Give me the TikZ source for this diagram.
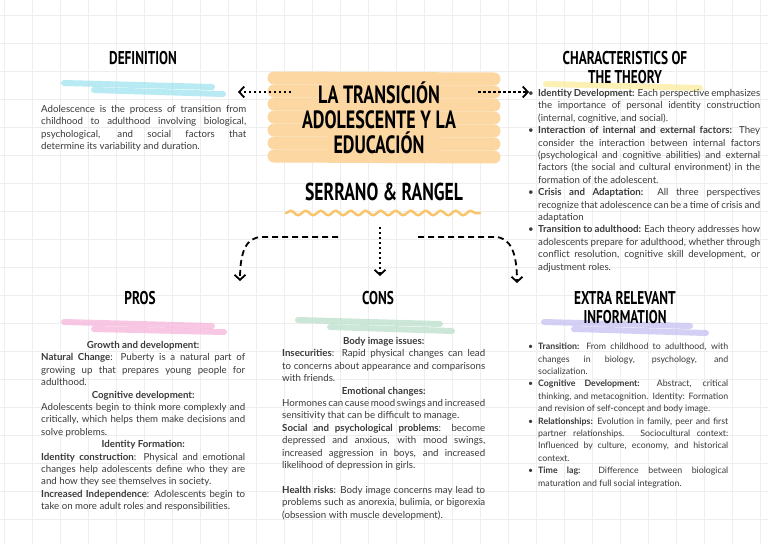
\documentclass[tikz,border=0pt]{standalone}
\usepackage{fontspec}
\setmainfont{Lato}
\newfontfamily\headfont[FakeStretch=0.72]{PT Sans}
\usetikzlibrary{arrows.meta,decorations.pathmorphing}

\definecolor{bodygray}{HTML}{3A3A3A}
\definecolor{gridgray}{HTML}{EEEEEE}
\definecolor{hlblue}{HTML}{9FE3EE}
\definecolor{hlyellow}{HTML}{FBEC9C}
\definecolor{hlpink}{HTML}{F6B5DA}
\definecolor{hlgreen}{HTML}{BBE0CC}
\definecolor{hlpurple}{HTML}{C6C0F2}
\definecolor{hlorange}{HTML}{FCD7A2}
\definecolor{waveorange}{HTML}{F8C46C}

\hyphenpenalty=10000
\exhyphenpenalty=10000
\newcommand{\bitem}[2]{\noindent\hangindent=10pt\hangafter=1\makebox[10pt][l]{\textbullet}\textbf{#1} #2\par}
\newcommand{\fullline}[1]{{\noindent\parfillskip=0pt\relax #1\par}}
\newcommand{\bfirst}[1]{{\noindent\parfillskip=0pt\relax\makebox[10pt][l]{\textbullet}#1\par}}
\newcommand{\bcont}[1]{{\noindent\leftskip=10pt\parfillskip=0pt\relax #1\par}}
\newcommand{\blast}[1]{{\noindent\leftskip=10pt\relax #1\par}}

\begin{document}
\begin{tikzpicture}[
        x=1pt, y=-1pt,
        gridline/.style={gridgray, line width=0.6pt},
        highlight/.style={line width=6pt, line cap=round, opacity=0.75},
        head/.style={font=\headfont\bfseries\fontsize{18.5}{19}\selectfont, align=center, inner sep=0pt},
        bigtitle/.style={font=\headfont\bfseries\fontsize{25}{25}\selectfont, align=center, inner sep=0pt},
        body/.style={font=\fontsize{9.7}{12.4}\selectfont, text=bodygray, align=justify, inner sep=0pt, anchor=north west},
        dotarrow/.style={line width=1.8pt, dash pattern=on 2.5pt off 2.5pt, -{Straight Barb[length=5pt, width=11pt, line width=1.8pt]}},
        dasharrow/.style={line width=1.8pt, dash pattern=on 6pt off 4pt, -{Straight Barb[length=5pt, width=11pt, line width=1.8pt]}},
    ]
    \useasboundingbox (0,0) rectangle (768,544);
    \fill[white] (0,0) rectangle (768,544);
    % grid
    \foreach \gx in {4,32,...,768} \draw[gridline] (\gx,0) -- (\gx,544);
    \foreach \gy in {15,43,...,544} \draw[gridline] (0,\gy) -- (768,\gy);

    % highlighter strokes
    \foreach \sy in {78,91,...,165} \draw[hlorange, line width=13pt, line cap=round] (274,\sy) -- (494,\sy+1);
    \draw[highlight, hlblue] (64,83) -- (212,87);
    \draw[highlight, hlblue] (94,90) -- (223,94);
    \draw[highlight, hlyellow] (546,84) -- (700,88);
    \draw[highlight, hlpink] (64,322) -- (212,326);
    \draw[highlight, hlpink] (94,329) -- (224,332);
    \draw[highlight, hlgreen] (298,320) -- (440,324);
    \draw[highlight, hlgreen] (330,327) -- (452,331);
    \draw[highlight, hlpurple] (544,322) -- (690,326);
    \draw[highlight, hlpurple] (574,329) -- (706,333);
    \draw[waveorange, line width=2.5pt, line cap=round, decorate,
        decoration={snake, amplitude=2.2pt, segment length=15pt}] (286,213) -- (480,213);

    % headings
    \node[bigtitle] (title) at (379,118) {LA TRANSICIÓN\\[0pt]ADOLESCENTE Y LA\\EDUCACIÓN};
    \node[head, font=\headfont\bfseries\fontsize{24.5}{25}\selectfont] (authors) at (384,192) {SERRANO \& RANGEL};
    \node[head] (defhead) at (143,58) {DEFINITION};
    \node[head] (charhead) at (625,68) {CHARACTERISTICS OF\\THE THEORY};
    \node[head] (proshead) at (140,298) {PROS};
    \node[head] (conshead) at (378,298) {CONS};
    \node[head] (extrahead) at (625,308) {EXTRA RELEVANT\\INFORMATION};

    % connectors
    \coordinate (tl) at (291,92);
    \coordinate (tr) at (478,92);
    \coordinate (defend) at (238,92);
    \coordinate (charend) at (529,92);
    \draw[dotarrow] (tl) -- (defend);
    \draw[dotarrow] (tr) -- (charend);
    \coordinate (bl) at (338,237);
    \coordinate (bm) at (380,227);
    \coordinate (br) at (418,237);
    \coordinate (prosend) at (240,281);
    \coordinate (consend) at (380,276);
    \coordinate (extraend) at (517,283);
    \draw[dasharrow] (bl) -- (262,237) .. controls (246,237) and (240,252) .. (prosend);
    \draw[dotarrow, dash pattern=on 2pt off 3pt] (bm) -- (consend);
    \draw[dasharrow] (br) -- (495,237) .. controls (511,237) and (517,254) .. (extraend);

    % texts
    \node[body, text width=205pt] (deftext) at (41,105) {%
        \fullline{Adolescence is the process of transition from}
        \fullline{childhood to adulthood involving biological,}
        \fullline{psychological, and social factors that}
        determine its variability and duration.\par};
    \node[body, text width=232pt] (chartext) at (528,89) {%
        \bitem{Identity Development:}{Each perspective emphasizes the importance of personal identity construction (internal, cognitive, and social).}
        \bitem{Interaction of internal and external factors:}{They consider the interaction between internal factors (psychological and cognitive abilities) and external factors (the social and cultural environment) in the formation of the adolescent.}
        \bitem{Crisis and Adaptation:}{All three perspectives recognize that adolescence can be a time of crisis and adaptation}
        \bitem{Transition to adulthood:}{Each theory addresses how adolescents prepare for adulthood, whether through conflict resolution, cognitive skill development, or adjustment roles.}};
    \node[body, text width=204pt] (prostext) at (41,341) {%
        \centerline{\textbf{Growth and development:}}
        \textbf{Natural Change}: Puberty is a natural part of growing up that prepares young people for adulthood.\par
        \centerline{\textbf{Cognitive development:}}
        Adolescents begin to think more complexly and critically, which helps them make decisions and solve problems.\par
        \centerline{\textbf{Identity Formation:}}
        \textbf{Identity construction}: Physical and emotional changes help adolescents define who they are and how they see themselves in society.\par
        \textbf{Increased Independence}: Adolescents begin to take on more adult roles and responsibilities.\par};
    \node[body, text width=203pt] (constext) at (282,337) {%
        \centerline{\textbf{Body image issues:}}
        \textbf{Insecurities}: Rapid physical changes can lead to concerns about appearance and comparisons with friends.\par
        \centerline{\textbf{Emotional changes:}}
        Hormones can cause mood swings and increased sensitivity that can be difficult to manage.\par
        \textbf{Social and psychological problems}: become depressed and anxious, with mood swings, increased aggression in boys, and increased likelihood of depression in girls.\par
        \vspace{12.4pt}
        \textbf{Health risks}: Body image concerns may lead to problems such as anorexia, bulimia, or bigorexia (obsession with muscle development).\par};
    \node[body, font=\fontsize{8.8}{12.4}\selectfont, text width=200pt] (extratext) at (528,343) {%
        \bfirst{\textbf{Transition:} From childhood to adulthood, with}
        \bcont{changes in biology, psychology, and}
        \blast{socialization.}
        \bfirst{\textbf{Cognitive Development:} Abstract, critical}
        \bcont{thinking, and metacognition. Identity: Formation}
        \blast{and revision of self-concept and body image.}
        \bfirst{\textbf{Relationships:} Evolution in family, peer and first}
        \bcont{partner relationships. Sociocultural context:}
        \bcont{Influenced by culture, economy, and historical}
        \blast{context.}
        \bfirst{\textbf{Time lag:} Difference between biological}
        \blast{maturation and full social integration.}};
\end{tikzpicture}
\end{document}
